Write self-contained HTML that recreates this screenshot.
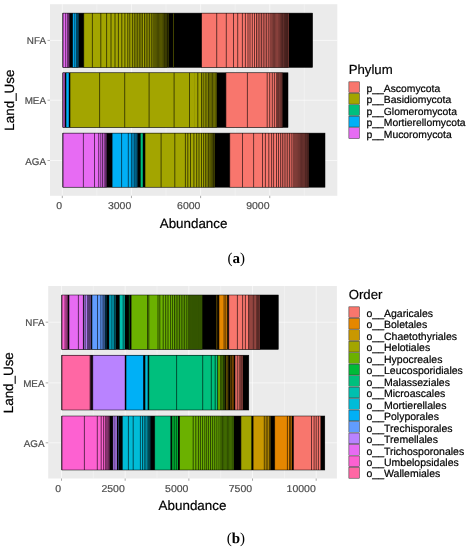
<!DOCTYPE html>
<html><head><meta charset="utf-8"><title>Figure</title>
<style>
html,body{margin:0;padding:0;background:#fff}
body{width:468px;height:550px;overflow:hidden}
svg{display:block}
text{font-family:"Liberation Sans",Arial,sans-serif;text-rendering:geometricPrecision}
.ax{font-size:9.85px;fill:#4D4D4D;stroke:#4D4D4D;stroke-width:0.2px}
.axx{font-size:10px}
.tt{font-size:13.4px;fill:#000;stroke:#000;stroke-width:0.2px}
.lt{font-size:13.2px;fill:#000;stroke:#000;stroke-width:0.2px}
.ll{font-size:10.37px;fill:#000;stroke:#000;stroke-width:0.2px}
.cap{font-family:"Liberation Serif","Times New Roman",serif;font-size:15px;fill:#000}
</style></head><body>
<svg width="468" height="550" viewBox="0 0 468 550">
<rect width="468" height="550" fill="#fff"/>
<rect x="50" y="4.2" width="287.3" height="191.6" fill="#EBEBEB"/>
<path d="M96.88 4.2V195.8" stroke="#fff" stroke-width="0.35"/>
<path d="M166.02 4.2V195.8" stroke="#fff" stroke-width="0.35"/>
<path d="M235.18 4.2V195.8" stroke="#fff" stroke-width="0.35"/>
<path d="M304.32 4.2V195.8" stroke="#fff" stroke-width="0.35"/>
<path d="M62.3 4.2V195.8" stroke="#fff" stroke-width="0.6"/>
<path d="M131.45 4.2V195.8" stroke="#fff" stroke-width="0.6"/>
<path d="M200.6 4.2V195.8" stroke="#fff" stroke-width="0.6"/>
<path d="M269.75 4.2V195.8" stroke="#fff" stroke-width="0.6"/>
<path d="M50 40.4H337.3" stroke="#fff" stroke-width="0.6"/>
<path d="M50 100.2H337.3" stroke="#fff" stroke-width="0.6"/>
<path d="M50 160.5H337.3" stroke="#fff" stroke-width="0.6"/>
<rect x="62.9" y="13.1" width="249.7" height="54.3" fill="#000"/>
<rect x="62.9" y="13.1" width="6.3" height="54.3" fill="#E76BF3"/>
<rect x="72.6" y="13.1" width="5.7" height="54.3" fill="#00B0F6"/>
<rect x="83.7" y="13.1" width="83.5" height="54.3" fill="#A3A500"/>
<rect x="173.2" y="13.1" width="0.6" height="54.3" fill="#6d6e00"/>
<rect x="168.1" y="13.1" width="0.5" height="54.3" fill="#5a5b00"/>
<rect x="151.3" y="13.1" width="0.5" height="54.3" fill="#8f9100"/>
<rect x="201.5" y="13.1" width="87.1" height="54.3" fill="#F8766D"/>
<rect x="280.8" y="13.1" width="0.5" height="54.3" fill="#a04a44"/>
<rect x="284" y="13.1" width="0.5" height="54.3" fill="#b0524b"/>
<rect x="286.5" y="13.1" width="0.5" height="54.3" fill="#a04a44"/>
<path d="M62.9 13.1V67.4M65.7 13.1V67.4M67.6 13.1V67.4M68.6 13.1V67.4M72.6 13.1V67.4M74.8 13.1V67.4M76.5 13.1V67.4M77.5 13.1V67.4M83.7 13.1V67.4M92.4 13.1V67.4M100.8 13.1V67.4M106.6 13.1V67.4M111 13.1V67.4M115 13.1V67.4M118.4 13.1V67.4M121.8 13.1V67.4M124.9 13.1V67.4M127.8 13.1V67.4M129.8 13.1V67.4M132.4 13.1V67.4M134.3 13.1V67.4M136 13.1V67.4M137.7 13.1V67.4M139.3 13.1V67.4M140.9 13.1V67.4M142.4 13.1V67.4M161.9 13.1V67.4M162.86 13.1V67.4M163.73 13.1V67.4M164.53 13.1V67.4M165.27 13.1V67.4M165.96 13.1V67.4M166.62 13.1V67.4M144.5 13.1V67.4M146.2 13.1V67.4M147.9 13.1V67.4M149.6 13.1V67.4M151.3 13.1V67.4M152.93 13.1V67.4M154.05 13.1V67.4M155.18 13.1V67.4M156.3 13.1V67.4M157.43 13.1V67.4M158.55 13.1V67.4M159.68 13.1V67.4M160.8 13.1V67.4M201.5 13.1V67.4M216.7 13.1V67.4M226.3 13.1V67.4M233.5 13.1V67.4M237.7 13.1V67.4M242.4 13.1V67.4M245.4 13.1V67.4M248 13.1V67.4M250 13.1V67.4M252.3 13.1V67.4M254.5 13.1V67.4M256.5 13.1V67.4M279 13.1V67.4M279.94 13.1V67.4M280.83 13.1V67.4M281.68 13.1V67.4M282.49 13.1V67.4M283.27 13.1V67.4M284.02 13.1V67.4M284.75 13.1V67.4M285.45 13.1V67.4M286.13 13.1V67.4M286.79 13.1V67.4M287.44 13.1V67.4M288.06 13.1V67.4M258.19 13.1V67.4M259.88 13.1V67.4M261.56 13.1V67.4M263.25 13.1V67.4M264.94 13.1V67.4M266.62 13.1V67.4M268.31 13.1V67.4M270 13.1V67.4M271.14 13.1V67.4M272.29 13.1V67.4M273.43 13.1V67.4M274.57 13.1V67.4M275.71 13.1V67.4M276.86 13.1V67.4M278 13.1V67.4" stroke="#000" stroke-width="0.6" fill="none"/>
<rect x="62.9" y="13.1" width="249.7" height="54.3" fill="none" stroke="#000" stroke-width="0.5"/>
<rect x="62.9" y="72.8" width="225.1" height="54.6" fill="#000"/>
<rect x="62.9" y="72.8" width="1.7" height="54.6" fill="#E76BF3"/>
<rect x="66" y="72.8" width="2.8" height="54.6" fill="#00B0F6"/>
<rect x="70" y="72.8" width="146.9" height="54.6" fill="#A3A500"/>
<rect x="194.2" y="72.8" width="0.4" height="54.6" fill="#888a00"/>
<rect x="225.9" y="72.8" width="56.7" height="54.6" fill="#F8766D"/>
<path d="M62.9 72.8V127.4M66 72.8V127.4M70 72.8V127.4M99.6 72.8V127.4M124.7 72.8V127.4M149.1 72.8V127.4M174.1 72.8V127.4M189.5 72.8V127.4M197.8 72.8V127.4M201.5 72.8V127.4M203.2 72.8V127.4M205.2 72.8V127.4M206.9 72.8V127.4M208.5 72.8V127.4M209.85 72.8V127.4M211.2 72.8V127.4M212.55 72.8V127.4M213.9 72.8V127.4M215.25 72.8V127.4M216.6 72.8V127.4M225.9 72.8V127.4M247.4 72.8V127.4M267.2 72.8V127.4M269.7 72.8V127.4M272.3 72.8V127.4M274.4 72.8V127.4M276.4 72.8V127.4M278 72.8V127.4M277.9 72.8V127.4M279.17 72.8V127.4M280.21 72.8V127.4M281.08 72.8V127.4M281.84 72.8V127.4M282.51 72.8V127.4" stroke="#000" stroke-width="0.6" fill="none"/>
<rect x="62.9" y="72.8" width="225.1" height="54.6" fill="none" stroke="#000" stroke-width="0.5"/>
<rect x="62.9" y="133.1" width="262.1" height="54.1" fill="#000"/>
<rect x="62.9" y="133.1" width="43.7" height="54.1" fill="#E76BF3"/>
<rect x="112.1" y="133.1" width="25.2" height="54.1" fill="#00B0F6"/>
<rect x="140.3" y="133.1" width="2.5" height="54.1" fill="#00BF7D"/>
<rect x="145" y="133.1" width="69.6" height="54.1" fill="#A3A500"/>
<rect x="229.7" y="133.1" width="78.8" height="54.1" fill="#F8766D"/>
<path d="M62.9 133.1V187.2M83.4 133.1V187.2M94.5 133.1V187.2M98.7 133.1V187.2M100.8 133.1V187.2M102.5 133.1V187.2M104.2 133.1V187.2M105.4 133.1V187.2M106.36 133.1V187.2M112.1 133.1V187.2M121.6 133.1V187.2M128.3 133.1V187.2M131.4 133.1V187.2M133 133.1V187.2M134.6 133.1V187.2M135.8 133.1V187.2M136.8 133.1V187.2M140.3 133.1V187.2M145 133.1V187.2M161.1 133.1V187.2M174.8 133.1V187.2M185.4 133.1V187.2M187.8 133.1V187.2M190.5 133.1V187.2M193.9 133.1V187.2M196.7 133.1V187.2M199 133.1V187.2M201.5 133.1V187.2M203.6 133.1V187.2M205.4 133.1V187.2M207 133.1V187.2M208.5 133.1V187.2M209.83 133.1V187.2M210.95 133.1V187.2M211.91 133.1V187.2M212.75 133.1V187.2M213.5 133.1V187.2M214.19 133.1V187.2M229.7 133.1V187.2M242.5 133.1V187.2M253.6 133.1V187.2M262.5 133.1V187.2M265.4 133.1V187.2M268.8 133.1V187.2M271.6 133.1V187.2M273.6 133.1V187.2M276.5 133.1V187.2M278.5 133.1V187.2M280.6 133.1V187.2M301.5 133.1V187.2M302.42 133.1V187.2M303.28 133.1V187.2M304.1 133.1V187.2M304.87 133.1V187.2M305.6 133.1V187.2M306.3 133.1V187.2M306.98 133.1V187.2M307.62 133.1V187.2M308.25 133.1V187.2M282.37 133.1V187.2M284.14 133.1V187.2M285.91 133.1V187.2M287.69 133.1V187.2M289.46 133.1V187.2M291.23 133.1V187.2M293 133.1V187.2M294.07 133.1V187.2M295.14 133.1V187.2M296.21 133.1V187.2M297.29 133.1V187.2M298.36 133.1V187.2M299.43 133.1V187.2M300.5 133.1V187.2" stroke="#000" stroke-width="0.6" fill="none"/>
<rect x="62.9" y="133.1" width="262.1" height="54.1" fill="none" stroke="#000" stroke-width="0.5"/>
<path d="M62.3 195.8v2.3" stroke="#444" stroke-width="0.45"/>
<text class="ax axx" transform="translate(62.1,209) scale(1.05,1)" text-anchor="end">0</text>
<path d="M131.45 195.8v2.3" stroke="#444" stroke-width="0.45"/>
<text class="ax axx" transform="translate(131.25,209) scale(1.05,1)" text-anchor="end">3000</text>
<path d="M200.6 195.8v2.3" stroke="#444" stroke-width="0.45"/>
<text class="ax axx" transform="translate(200.4,209) scale(1.05,1)" text-anchor="end">6000</text>
<path d="M269.75 195.8v2.3" stroke="#444" stroke-width="0.45"/>
<text class="ax axx" transform="translate(269.55,209) scale(1.05,1)" text-anchor="end">9000</text>
<path d="M50 40.4h-2.5" stroke="#444" stroke-width="0.45"/>
<text class="ax" x="46" y="44.4" text-anchor="end">NFA</text>
<path d="M50 100.2h-2.5" stroke="#444" stroke-width="0.45"/>
<text class="ax" x="46" y="104.2" text-anchor="end">MEA</text>
<path d="M50 160.5h-2.5" stroke="#444" stroke-width="0.45"/>
<text class="ax" x="46" y="164.5" text-anchor="end">AGA</text>
<text class="tt" x="193.6" y="227.6" text-anchor="middle">Abundance</text>
<text class="tt" transform="translate(14.1,100.1) rotate(-90)" text-anchor="middle">Land_Use</text>
<text class="lt" x="348.7" y="74">Phylum</text>
<rect x="348.2" y="81.5" width="11.47" height="11.47" fill="#F2F2F2"/>
<rect x="348.9" y="81.85" width="10.57" height="10.770000000000001" fill="#F8766D" stroke="#222" stroke-width="0.45"/>
<text class="ll" x="366.5" y="91.7">p__Ascomycota</text>
<rect x="348.2" y="92.97" width="11.47" height="11.47" fill="#F2F2F2"/>
<rect x="348.9" y="93.32" width="10.57" height="10.770000000000001" fill="#A3A500" stroke="#222" stroke-width="0.45"/>
<text class="ll" x="366.5" y="103.17">p__Basidiomycota</text>
<rect x="348.2" y="104.44" width="11.47" height="11.47" fill="#F2F2F2"/>
<rect x="348.9" y="104.79" width="10.57" height="10.770000000000001" fill="#00BF7D" stroke="#222" stroke-width="0.45"/>
<text class="ll" x="366.5" y="114.64">p__Glomeromycota</text>
<rect x="348.2" y="115.91" width="11.47" height="11.47" fill="#F2F2F2"/>
<rect x="348.9" y="116.26" width="10.57" height="10.770000000000001" fill="#00B0F6" stroke="#222" stroke-width="0.45"/>
<text class="ll" x="366.5" y="126.11">p__Mortierellomycota</text>
<rect x="348.2" y="127.38" width="11.47" height="11.47" fill="#F2F2F2"/>
<rect x="348.9" y="127.73" width="10.57" height="10.770000000000001" fill="#E76BF3" stroke="#222" stroke-width="0.45"/>
<text class="ll" x="366.5" y="137.58">p__Mucoromycota</text>
<text class="cap" x="236.2" y="263" text-anchor="middle">(<tspan font-weight="bold">a</tspan>)</text>
<rect x="48.2" y="286" width="288.7" height="192.5" fill="#EBEBEB"/>
<path d="M93.34 286V478.5" stroke="#fff" stroke-width="0.35"/>
<path d="M157.01 286V478.5" stroke="#fff" stroke-width="0.35"/>
<path d="M220.69 286V478.5" stroke="#fff" stroke-width="0.35"/>
<path d="M284.36 286V478.5" stroke="#fff" stroke-width="0.35"/>
<path d="M61.5 286V478.5" stroke="#fff" stroke-width="0.6"/>
<path d="M125.17 286V478.5" stroke="#fff" stroke-width="0.6"/>
<path d="M188.85 286V478.5" stroke="#fff" stroke-width="0.6"/>
<path d="M252.53 286V478.5" stroke="#fff" stroke-width="0.6"/>
<path d="M316.2 286V478.5" stroke="#fff" stroke-width="0.6"/>
<path d="M48.2 322.2H336.9" stroke="#fff" stroke-width="0.6"/>
<path d="M48.2 382.9H336.9" stroke="#fff" stroke-width="0.6"/>
<path d="M48.2 442.8H336.9" stroke="#fff" stroke-width="0.6"/>
<rect x="61.85" y="295" width="216.45" height="54.4" fill="#000"/>
<rect x="61.85" y="295" width="5.65" height="54.4" fill="#FD61D1"/>
<rect x="69" y="295" width="14.4" height="54.4" fill="#E76BF3"/>
<rect x="83.4" y="295" width="7.1" height="54.4" fill="#B983FF"/>
<rect x="91.9" y="295" width="12.8" height="54.4" fill="#619CFF"/>
<rect x="105.7" y="295" width="0.6" height="54.4" fill="#0078a8"/>
<rect x="109" y="295" width="6.7" height="54.4" fill="#00BCD8"/>
<rect x="119.3" y="295" width="5.4" height="54.4" fill="#00C0AF"/>
<rect x="128.6" y="295" width="2.5" height="54.4" fill="#000"/>
<rect x="128.8" y="295" width="0.7" height="54.4" fill="#009a2e"/>
<rect x="131.1" y="295" width="71.1" height="54.4" fill="#6BB100"/>
<rect x="215.5" y="295" width="3.4" height="54.4" fill="#000"/>
<rect x="216.5" y="295" width="0.7" height="54.4" fill="#8a6800"/>
<rect x="218.9" y="295" width="8.3" height="54.4" fill="#E58700"/>
<rect x="228.7" y="295" width="31.3" height="54.4" fill="#F8766D"/>
<path d="M61.85 295V349.4M65.1 295V349.4M66.8 295V349.4M69 295V349.4M78.4 295V349.4M83.4 295V349.4M83.7 295V349.4M85.2 295V349.4M87.4 295V349.4M88.6 295V349.4M89.6 295V349.4M91.9 295V349.4M97.5 295V349.4M100.9 295V349.4M102.9 295V349.4M103.9 295V349.4M109 295V349.4M111.2 295V349.4M113 295V349.4M114.5 295V349.4M115.2 295V349.4M119.3 295V349.4M123.2 295V349.4M128.6 295V349.4M131.1 295V349.4M147.5 295V349.4M148.8 295V349.4M158 295V349.4M159.8 295V349.4M163.2 295V349.4M165.7 295V349.4M168 295V349.4M170.6 295V349.4M172.6 295V349.4M174.5 295V349.4M176.19 295V349.4M177.88 295V349.4M179.56 295V349.4M181.25 295V349.4M182.94 295V349.4M184.62 295V349.4M186.31 295V349.4M188 295V349.4M188.99 295V349.4M189.97 295V349.4M190.96 295V349.4M191.94 295V349.4M192.93 295V349.4M193.91 295V349.4M194.9 295V349.4M195.89 295V349.4M196.87 295V349.4M197.86 295V349.4M198.84 295V349.4M199.83 295V349.4M200.81 295V349.4M201.8 295V349.4M215.5 295V349.4M218.9 295V349.4M224.1 295V349.4M225.8 295V349.4M228.7 295V349.4M237.4 295V349.4M242.6 295V349.4M245.4 295V349.4M248.5 295V349.4M249.75 295V349.4M251 295V349.4M252.25 295V349.4M253.5 295V349.4M254.75 295V349.4M256 295V349.4M256.8 295V349.4M257.6 295V349.4M258.4 295V349.4M259.2 295V349.4M260 295V349.4" stroke="#000" stroke-width="0.6" fill="none"/>
<rect x="61.85" y="295" width="216.45" height="54.4" fill="none" stroke="#000" stroke-width="0.5"/>
<rect x="61.85" y="355.2" width="186.95" height="54.8" fill="#000"/>
<rect x="61.85" y="355.2" width="28.25" height="54.8" fill="#FF67A4"/>
<rect x="90.1" y="355.2" width="2.6" height="54.8" fill="#000"/>
<rect x="90.5" y="355.2" width="0.6" height="54.8" fill="#c050a0"/>
<rect x="92.7" y="355.2" width="32.1" height="54.8" fill="#B983FF"/>
<rect x="126" y="355.2" width="17.2" height="54.8" fill="#00B0F6"/>
<rect x="145" y="355.2" width="2.7" height="54.8" fill="#00BCD8"/>
<rect x="148.8" y="355.2" width="68.9" height="54.8" fill="#00BF7D"/>
<rect x="217.7" y="355.2" width="7.4" height="54.8" fill="#6BB100"/>
<rect x="225.4" y="355.2" width="9.6" height="54.8" fill="#000"/>
<rect x="225.6" y="355.2" width="2.1" height="54.8" fill="#6b5800"/>
<rect x="226.5" y="355.2" width="0.4" height="54.8" fill="#3d3200"/>
<rect x="228.4" y="355.2" width="0.5" height="54.8" fill="#3a2c00"/>
<rect x="230.1" y="355.2" width="1.5" height="54.8" fill="#5a4000"/>
<rect x="232.5" y="355.2" width="0.9" height="54.8" fill="#E58700"/>
<rect x="235" y="355.2" width="7.9" height="54.8" fill="#F8766D"/>
<path d="M61.85 355.2V410M90.1 355.2V410M92.7 355.2V410M126 355.2V410M145 355.2V410M148.8 355.2V410M176.6 355.2V410M202.7 355.2V410M211.3 355.2V410M215.2 355.2V410M217.7 355.2V410M220.4 355.2V410M221.7 355.2V410M222.9 355.2V410M223.6 355.2V410M224.3 355.2V410M225 355.2V410M225.4 355.2V410M235 355.2V410M237.3 355.2V410M239.2 355.2V410M240.37 355.2V410M241.53 355.2V410M242.7 355.2V410" stroke="#000" stroke-width="0.6" fill="none"/>
<rect x="61.85" y="355.2" width="186.95" height="54.8" fill="none" stroke="#000" stroke-width="0.5"/>
<rect x="61.85" y="416" width="262.95" height="54" fill="#000"/>
<rect x="61.85" y="416" width="47.45" height="54" fill="#FD61D1"/>
<rect x="112.9" y="416" width="3.9" height="54" fill="#B983FF"/>
<rect x="117.9" y="416" width="4.4" height="54" fill="#000"/>
<rect x="118.3" y="416" width="0.6" height="54" fill="#4a78c8"/>
<rect x="122.3" y="416" width="28" height="54" fill="#00BCD8"/>
<rect x="154.6" y="416" width="15.9" height="54" fill="#00BF7D"/>
<rect x="171.9" y="416" width="6" height="54" fill="#00BA38"/>
<rect x="179.5" y="416" width="54.5" height="54" fill="#6BB100"/>
<rect x="240.9" y="416" width="10.5" height="54" fill="#A3A500"/>
<rect x="253.1" y="416" width="17.2" height="54" fill="#C99800"/>
<rect x="274.6" y="416" width="17.1" height="54" fill="#E58700"/>
<rect x="293.4" y="416" width="27.1" height="54" fill="#F8766D"/>
<path d="M61.85 416V470M84.4 416V470M97.3 416V470M101.2 416V470M103.6 416V470M105.4 416V470M106.7 416V470M107.8 416V470M108.69 416V470M112.9 416V470M114.9 416V470M117.9 416V470M122.3 416V470M128.4 416V470M133.2 416V470M140.4 416V470M142.5 416V470M144.3 416V470M145.8 416V470M147.3 416V470M148.5 416V470M149.46 416V470M150.2 416V470M154.6 416V470M171.9 416V470M174.2 416V470M176.3 416V470M179.5 416V470M193.2 416V470M195.8 416V470M198.4 416V470M200.4 416V470M202.6 416V470M204.8 416V470M206.7 416V470M208.6 416V470M210.5 416V470M212.4 416V470M214.3 416V470M216.2 416V470M218.1 416V470M220 416V470M221.24 416V470M222.47 416V470M223.71 416V470M224.95 416V470M226.18 416V470M227.42 416V470M228.65 416V470M229.89 416V470M231.13 416V470M232.36 416V470M233.6 416V470M240.9 416V470M253.1 416V470M264.3 416V470M266.2 416V470M267.8 416V470M269.5 416V470M274.6 416V470M287.4 416V470M289.5 416V470M290.6 416V470M293.4 416V470M311.5 416V470M314.1 416V470M316.2 416V470M318.4 416V470" stroke="#000" stroke-width="0.6" fill="none"/>
<rect x="61.85" y="416" width="262.95" height="54" fill="none" stroke="#000" stroke-width="0.5"/>
<path d="M61.5 478.5v2.3" stroke="#444" stroke-width="0.45"/>
<text class="ax axx" transform="translate(61.1,491.7) scale(1.05,1)" text-anchor="end">0</text>
<path d="M125.17 478.5v2.3" stroke="#444" stroke-width="0.45"/>
<text class="ax axx" transform="translate(124.77,491.7) scale(1.05,1)" text-anchor="end">2500</text>
<path d="M188.85 478.5v2.3" stroke="#444" stroke-width="0.45"/>
<text class="ax axx" transform="translate(188.45,491.7) scale(1.05,1)" text-anchor="end">5000</text>
<path d="M252.53 478.5v2.3" stroke="#444" stroke-width="0.45"/>
<text class="ax axx" transform="translate(252.12,491.7) scale(1.05,1)" text-anchor="end">7500</text>
<path d="M316.2 478.5v2.3" stroke="#444" stroke-width="0.45"/>
<text class="ax axx" transform="translate(315.8,491.7) scale(1.05,1)" text-anchor="end">10000</text>
<path d="M48.2 322.2h-2.5" stroke="#444" stroke-width="0.45"/>
<text class="ax" x="44.5" y="326.2" text-anchor="end">NFA</text>
<path d="M48.2 382.9h-2.5" stroke="#444" stroke-width="0.45"/>
<text class="ax" x="44.5" y="386.9" text-anchor="end">MEA</text>
<path d="M48.2 442.8h-2.5" stroke="#444" stroke-width="0.45"/>
<text class="ax" x="44.5" y="446.8" text-anchor="end">AGA</text>
<text class="tt" x="192.5" y="510.2" text-anchor="middle">Abundance</text>
<text class="tt" transform="translate(13.2,382.7) rotate(-90)" text-anchor="middle">Land_Use</text>
<text class="lt" x="348.7" y="299.1">Order</text>
<rect x="348.2" y="306.5" width="11.47" height="11.47" fill="#F2F2F2"/>
<rect x="348.9" y="306.85" width="10.57" height="10.770000000000001" fill="#F8766D" stroke="#222" stroke-width="0.45"/>
<text class="ll" style="font-size:10.5px" x="366.5" y="316.9">o__Agaricales</text>
<rect x="348.2" y="317.97" width="11.47" height="11.47" fill="#F2F2F2"/>
<rect x="348.9" y="318.32" width="10.57" height="10.770000000000001" fill="#E58700" stroke="#222" stroke-width="0.45"/>
<text class="ll" style="font-size:10.5px" x="366.5" y="328.37">o__Boletales</text>
<rect x="348.2" y="329.44" width="11.47" height="11.47" fill="#F2F2F2"/>
<rect x="348.9" y="329.79" width="10.57" height="10.770000000000001" fill="#C99800" stroke="#222" stroke-width="0.45"/>
<text class="ll" style="font-size:10.5px" x="366.5" y="339.84">o__Chaetothyriales</text>
<rect x="348.2" y="340.91" width="11.47" height="11.47" fill="#F2F2F2"/>
<rect x="348.9" y="341.26" width="10.57" height="10.770000000000001" fill="#A3A500" stroke="#222" stroke-width="0.45"/>
<text class="ll" style="font-size:10.5px" x="366.5" y="351.31">o__Helotiales</text>
<rect x="348.2" y="352.38" width="11.47" height="11.47" fill="#F2F2F2"/>
<rect x="348.9" y="352.73" width="10.57" height="10.770000000000001" fill="#6BB100" stroke="#222" stroke-width="0.45"/>
<text class="ll" style="font-size:10.5px" x="366.5" y="362.78">o__Hypocreales</text>
<rect x="348.2" y="363.85" width="11.47" height="11.47" fill="#F2F2F2"/>
<rect x="348.9" y="364.2" width="10.57" height="10.770000000000001" fill="#00BA38" stroke="#222" stroke-width="0.45"/>
<text class="ll" style="font-size:10.5px" x="366.5" y="374.25">o__Leucosporidiales</text>
<rect x="348.2" y="375.32" width="11.47" height="11.47" fill="#F2F2F2"/>
<rect x="348.9" y="375.67" width="10.57" height="10.770000000000001" fill="#00BF7D" stroke="#222" stroke-width="0.45"/>
<text class="ll" style="font-size:10.5px" x="366.5" y="385.72">o__Malasseziales</text>
<rect x="348.2" y="386.79" width="11.47" height="11.47" fill="#F2F2F2"/>
<rect x="348.9" y="387.14" width="10.57" height="10.770000000000001" fill="#00C0AF" stroke="#222" stroke-width="0.45"/>
<text class="ll" style="font-size:10.5px" x="366.5" y="397.19">o__Microascales</text>
<rect x="348.2" y="398.26" width="11.47" height="11.47" fill="#F2F2F2"/>
<rect x="348.9" y="398.61" width="10.57" height="10.770000000000001" fill="#00BCD8" stroke="#222" stroke-width="0.45"/>
<text class="ll" style="font-size:10.5px" x="366.5" y="408.66">o__Mortierellales</text>
<rect x="348.2" y="409.73" width="11.47" height="11.47" fill="#F2F2F2"/>
<rect x="348.9" y="410.08" width="10.57" height="10.770000000000001" fill="#00B0F6" stroke="#222" stroke-width="0.45"/>
<text class="ll" style="font-size:10.5px" x="366.5" y="420.13">o__Polyporales</text>
<rect x="348.2" y="421.2" width="11.47" height="11.47" fill="#F2F2F2"/>
<rect x="348.9" y="421.55" width="10.57" height="10.770000000000001" fill="#619CFF" stroke="#222" stroke-width="0.45"/>
<text class="ll" style="font-size:10.5px" x="366.5" y="431.6">o__Trechisporales</text>
<rect x="348.2" y="432.67" width="11.47" height="11.47" fill="#F2F2F2"/>
<rect x="348.9" y="433.02" width="10.57" height="10.770000000000001" fill="#B983FF" stroke="#222" stroke-width="0.45"/>
<text class="ll" style="font-size:10.5px" x="366.5" y="443.07">o__Tremellales</text>
<rect x="348.2" y="444.14" width="11.47" height="11.47" fill="#F2F2F2"/>
<rect x="348.9" y="444.49" width="10.57" height="10.770000000000001" fill="#E76BF3" stroke="#222" stroke-width="0.45"/>
<text class="ll" style="font-size:10.5px" x="366.5" y="454.54">o__Trichosporonales</text>
<rect x="348.2" y="455.61" width="11.47" height="11.47" fill="#F2F2F2"/>
<rect x="348.9" y="455.96" width="10.57" height="10.770000000000001" fill="#FD61D1" stroke="#222" stroke-width="0.45"/>
<text class="ll" style="font-size:10.5px" x="366.5" y="466.01">o__Umbelopsidales</text>
<rect x="348.2" y="467.08" width="11.47" height="11.47" fill="#F2F2F2"/>
<rect x="348.9" y="467.43" width="10.57" height="10.770000000000001" fill="#FF67A4" stroke="#222" stroke-width="0.45"/>
<text class="ll" style="font-size:10.5px" x="366.5" y="477.48">o__Wallemiales</text>
<text class="cap" x="235.8" y="542.8" text-anchor="middle">(<tspan font-weight="bold">b</tspan>)</text>
</svg></body></html>
